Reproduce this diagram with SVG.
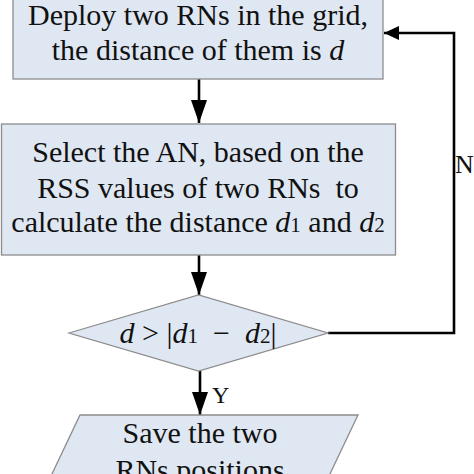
<svg xmlns="http://www.w3.org/2000/svg" width="474" height="474" viewBox="0 0 474 474">
<style>
.node{fill:#dfe7f2;stroke:#8c8c8c;stroke-width:1.3}
.t{font-family:"Liberation Serif","Times New Roman",serif;font-size:30px;fill:#111;text-anchor:middle}
.i{font-style:italic}
.s{font-size:21px}
.lbl{font-family:"Liberation Serif","Times New Roman",serif;fill:#111}
.c{fill:none;stroke:#000;stroke-width:2.6}
</style>
<defs>
<marker id="av" markerUnits="userSpaceOnUse" markerWidth="24" markerHeight="17" refX="23" refY="8" orient="auto">
<path d="M0,0 L23,8 L0,16 z" fill="#000"/>
</marker>
<marker id="ah" markerUnits="userSpaceOnUse" markerWidth="16" markerHeight="14" refX="15" refY="7" orient="auto">
<path d="M0,0 L15,7 L0,14 z" fill="#000"/>
</marker>
</defs>
<rect width="474" height="474" fill="#fff"/>
<g id="connectors">
<line class="c" x1="199" y1="79" x2="199" y2="123" marker-end="url(#av)"/>
<line class="c" x1="199" y1="255" x2="199" y2="295" marker-end="url(#av)"/>
<line class="c" x1="200" y1="371" x2="200" y2="415" marker-end="url(#av)"/>
<polyline class="c" points="328,333 454,333 454,33 384,33" marker-end="url(#ah)"/>
<text class="lbl" x="455" y="173" font-size="26">N</text>
<text class="lbl" x="212" y="403" font-size="24">Y</text>
</g>
<g id="deploy">
<rect class="node" x="13" y="-10" width="370" height="89"/>
<text class="t" x="198" y="25">Deploy two RNs in the grid,</text>
<text class="t" x="198" y="60">the distance of them is <tspan class="i">d</tspan></text>
</g>
<g id="select">
<rect class="node" x="1.5" y="124" width="394" height="131"/>
<text class="t" x="198" y="162">Select the AN, based on the</text>
<text class="t" x="198" y="197.5" xml:space="preserve">RSS values of two RNs  to</text>
<text class="t" x="198" y="232">calculate the distance <tspan class="i">d</tspan><tspan class="s">1</tspan> and <tspan class="i">d</tspan><tspan class="s">2</tspan></text>
</g>
<g id="decision">
<polygon class="node" points="69,333 198.5,295 328,333 198.5,371"/>
<text class="t" x="198" y="343" xml:space="preserve"><tspan class="i">d</tspan> &gt; |<tspan class="i">d</tspan><tspan class="s">1</tspan>  −  <tspan class="i">d</tspan><tspan class="s">2</tspan>|</text>
</g>
<g id="save">
<polygon class="node" points="80,415 358,415 317.6,500 39.6,500"/>
<text class="t" x="200" y="443">Save the two</text>
<text class="t" x="200" y="480">RNs positions</text>
</g>
</svg>
